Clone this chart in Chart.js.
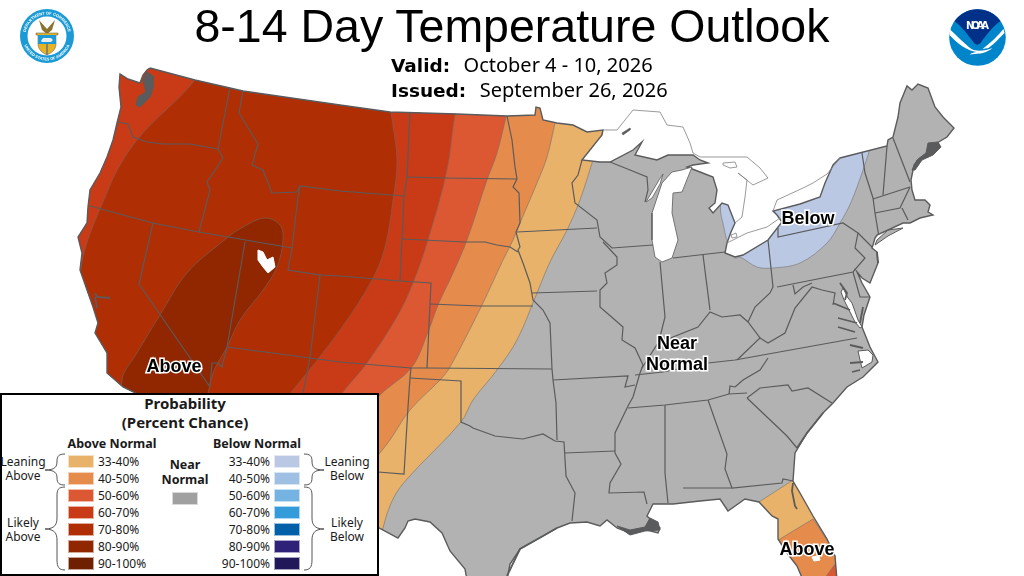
<!DOCTYPE html>
<html>
<head>
<meta charset="utf-8">
<title>8-14 Day Temperature Outlook</title>
<script src="https://cdn.jsdelivr.net/npm/chart.js@4"></script>
<style>
    html, body { margin: 0; padding: 0; background: #fff; }
    #page { position: relative; width: 1024px; height: 576px; overflow: hidden; font-family: "Liberation Sans", Arial, sans-serif; color: #000; }
    #map { position: absolute; left: 0; top: 0; }
    .abs { position: absolute; white-space: nowrap; line-height: 1; }
    .center { transform: translateX(-50%); text-align: center; }
    .title { left: 512px; top: 3px; font-size: 46.5px; }
    .sub { font-family: "Noto Sans", sans-serif; font-size: 20px; }
    .sub b { font-family: "DejaVu Sans", sans-serif; font-size: 18.5px; margin-right: 3px; }
    .region { font-size: 18px; font-weight: bold; paint-order: stroke fill; -webkit-text-stroke: 3px #fff; }
    #legend { position: absolute; left: 0; top: 393px; width: 375px; height: 179px; background: #fff; border: 2px solid #000; font-family: "Noto Sans", sans-serif; }
    #legend .abs { margin-top: -395px; margin-left: -2px; color: #1a1a1a; }
    .lg-head { font-weight: bold; font-size: 15px; }
    .lg-col { font-weight: bold; font-size: 12.5px; }
    .lg-txt { font-size: 12px; }
    .swatch { position: absolute; width: 26px; height: 13px; box-sizing: border-box; border: 1px solid rgba(255,255,255,.6); margin-top: -395px; margin-left: -2px; }
    #braces { position: absolute; left: -2px; top: -395px; }
    svg.logo { position: absolute; }
</style>
</head>
<body>
<div id="page">
    <canvas id="map" width="1024" height="576"></canvas>

    <div class="abs center title">8-14 Day Temperature Outlook</div>
    <div class="abs sub" style="left:391px;top:55px"><b>Valid:</b>&nbsp; October 4 - 10, 2026</div>
    <div class="abs sub" style="left:391px;top:80px"><b>Issued:</b>&nbsp; September 26, 2026</div>

    <div class="abs center region" style="left:174px;top:357px">Above</div>
    <div class="abs center region" style="left:677px;top:334px">Near</div>
    <div class="abs center region" style="left:677px;top:355px">Normal</div>
    <div class="abs center region" style="left:808px;top:209px">Below</div>
    <div class="abs center region" style="left:807px;top:540px">Above</div>

    <!-- Department of Commerce seal -->
    <svg class="logo" style="left:19px;top:8px" width="56" height="56" viewBox="0 0 56 56">
        <defs>
            <path id="ringTop" d="M6.5 28a21.5 21.5 0 0 1 43 0"/>
            <path id="ringBottom" d="M3.5 28a24.5 24.5 0 0 0 49 0"/>
        </defs>
        <circle cx="28" cy="28" r="27" fill="#1b9ad6"/>
        <circle cx="28" cy="28" r="19.5" fill="#fff"/>
        <text font-size="4" font-weight="bold" fill="#fff" text-anchor="middle" font-family="Liberation Sans"><textPath href="#ringTop" startOffset="50%">DEPARTMENT OF COMMERCE</textPath></text>
        <text font-size="4" font-weight="bold" fill="#fff" text-anchor="middle" font-family="Liberation Sans"><textPath href="#ringBottom" startOffset="50%">UNITED STATES OF AMERICA</textPath></text>
        <path d="M20 12l8 9 8-9-3 10-5 4-5-4z" fill="#8a7430"/>
        <path d="M17 25h22v2h-2v9c0 6-5 9-9 11-4-2-9-5-9-11v-9h-2z" fill="#e6b422" stroke="#555" stroke-width=".5"/>
        <rect x="19" y="27" width="18" height="9" fill="#1b9ad6"/>
        <path d="M22 33l2-3h8l2 2-2 2h-9z" fill="#eee"/>
        <rect x="27.2" y="36" width="1.6" height="11" fill="#777"/>
    </svg>

    <!-- NOAA logo -->
    <svg class="logo" style="left:949px;top:9px" width="57" height="57" viewBox="0 0 57 57">
        <circle cx="28.5" cy="28.5" r="28.3" fill="#0085ca"/>
        <path d="M5.5 12.2A28.3 28.3 0 0 1 51.5 12c-7 4.5-14 14-20.5 22.5-1.5 1.5-4 1.500-5.500 0C19 26 12.500 17 5.500 12.200z" fill="#003087"/>
        <path d="M0.500 20c7 6 15 15 22 20 5 3 15 1.500 21-1-5 4-10 5.500-13 5.500l-10 1c3-2 5-2 7-2.500C18 42 8 34 0.500 26z" fill="#fff"/>
        <path d="M54.500 20c-6 7-13 14-21 20l6-1c6-4.500 11-10 16-15z" fill="#fff"/>
        <text x="28.500" y="19.500" font-size="10" font-weight="bold" fill="#fff" text-anchor="middle" font-family="DejaVu Sans" textLength="23">NOAA</text>
    </svg>

    <div id="legend">
        <svg id="braces" width="378" height="576" fill="none" stroke="#555" stroke-width="1">
            <path d="M65 454c-6 0-8 2-8 7 0 6-2 9-12 9 10 0 12 3 12 8 0 5 2 7 8 7"/>
            <path d="M65 487c-7 0-8 3-8 9v22c0 6-2 11-12 11 10 0 12 5 12 11v20c0 7 2 10 8 10"/>
            <path d="M304 454c6 0 8 2 8 7 0 6 2 9 12 9-10 0-12 3-12 8 0 5-2 7-8 7"/>
            <path d="M304 487c7 0 8 3 8 9v22c0 6 2 11 12 11-10 0-12 5-12 11v20c0 7-2 10-8 10"/>
        </svg>
    </div>
</div>

<script>
// Legend contents
const rangeLabels = ['33-40%', '40-50%', '50-60%', '60-70%', '70-80%', '80-90%', '90-100%'];
const aboveColors = ['#E8B26A', '#E58B4C', '#DC5832', '#C93A17', '#B02E04', '#902700', '#6E2000'];
const belowColors = ['#BBC8E4', '#9FC0E2', '#74B3E2', '#359CDC', '#0160A8', '#2E2278', '#201858'];
const nearColor = '#A0A0A0';
const landColor = '#B2B2B2';
const lineColor = '#5A5B5D';

// Map shapes as [x, y] in map units
const usOutline = [[150,68],[195,80],[230,88],[243,91],[340,105],[390,112],[457,114],[507,116],[535,115],[536,107],[540,108],[543,120],[557,123],[573,125],[587,132],[603,130],[602,135],[582,160],[600,162],[610,162],[633,150],[642,142],[635,155],[657,160],[668,155],[693,155],[700,160],[708,163],[693,165],[687,167],[700,172],[713,177],[717,190],[715,203],[709,208],[713,213],[722,203],[728,205],[735,223],[731,232],[727,243],[725,253],[735,257],[743,255],[768,240],[782,222],[777,215],[773,211],[800,204],[820,197],[825,183],[833,165],[840,158],[887,146],[888,140],[893,137],[898,117],[900,103],[907,86],[912,90],[918,84],[928,88],[935,107],[943,117],[954,128],[947,137],[937,143],[930,152],[920,158],[914,165],[911,180],[912,190],[915,200],[925,200],[930,205],[928,212],[933,215],[920,218],[910,223],[903,223],[877,235],[875,238],[873,245],[872,248],[877,252],[878,263],[870,283],[862,278],[857,272],[862,283],[870,297],[864,315],[862,327],[870,347],[878,362],[863,377],[847,387],[833,403],[823,413],[807,433],[795,453],[793,481],[800,493],[813,516],[827,539],[835,556],[837,580],[803,580],[797,566],[787,553],[778,539],[778,519],[772,516],[759,502],[745,499],[728,511],[720,499],[700,501],[673,504],[653,504],[647,516],[660,528],[658,533],[643,529],[630,533],[617,528],[607,520],[600,526],[587,522],[570,523],[557,528],[543,536],[520,549],[510,564],[507,580],[467,580],[465,569],[450,551],[442,533],[430,522],[415,519],[408,521],[405,528],[398,538],[379,528],[300,490],[220,440],[180,420],[150,400],[123,387],[107,373],[107,353],[95,333],[98,323],[93,307],[87,290],[80,270],[82,253],[78,237],[87,223],[88,207],[90,190],[100,173],[107,157],[113,140],[117,123],[121,107],[119,87],[120,74],[128,79],[140,83],[143,75],[147,70]];
const longIsland = [[875,245],[888,236],[903,228],[888,230],[877,240]];

// Probability regions, biggest first
const above33 = [[610,100],[603,130],[593,160],[580,200],[567,230],[550,262],[537,293],[517,340],[497,370],[473,400],[461,422],[407,479],[393,499],[383,528],[370,590],[0,590],[0,0],[610,0]];
const above40 = [[560,100],[555,123],[547,157],[537,183],[520,223],[513,240],[503,260],[482,305],[450,367],[440,380],[410,410],[390,440],[379,454],[340,500],[0,590],[0,0],[560,0]];
const above50 = [[510,100],[506,117],[497,153],[487,180],[467,240],[453,273],[438,305],[428,332],[412,367],[380,395],[340,440],[0,590],[0,0],[510,0]];
const above60 = [[460,100],[455,115],[447,170],[428,240],[413,283],[398,315],[367,363],[347,387],[320,420],[0,590],[0,0],[460,0]];
const above70 = [[390,100],[391,112],[397,160],[393,200],[385,247],[372,280],[340,330],[293,390],[250,440],[100,420],[80,280],[108,190],[137,140],[195,80],[200,60]];
const above80 = [[205,410],[130,410],[122,380],[137,353],[160,315],[187,273],[227,238],[243,227],[265,218],[280,225],[283,240],[277,267],[263,290],[240,320],[227,347],[213,373]];
const below33 = [[875,130],[869,152],[852,200],[840,223],[827,243],[800,263],[773,268],[757,267],[740,257],[735,258],[729,245],[725,233],[722,200],[760,150]];
const floridaAbove33 = [[745,511],[793,480],[860,560],[860,590],[760,590]];
const floridaAbove40 = [[770,545],[813,519],[860,590],[770,590]];
const floridaAbove50 = [[825,578],[838,560],[860,590]];

// Water drawn over the land
const lakeMichigan = [[692,167],[682,170],[672,172],[662,183],[652,213],[652,240],[655,257],[662,262],[672,258],[678,240],[672,213],[673,193],[682,192],[690,172]];
const greenBay = [[646,202],[652,192],[659,180],[663,174],[660,184],[652,198]];
const lakeStClair = [[731,235],[736,233],[737,237],[732,238]];
const saltLake = [[258,250],[263,252],[267,260],[273,257],[275,267],[268,273],[263,267],[258,260]];
const chesapeake = [[843,288],[848,298],[852,303],[858,320],[862,327],[860,328],[855,322],[849,310],[844,300],[841,292]];
const pamlico = [[858,351],[868,350],[873,355],[872,362],[862,368],[860,360]];
const okeechobee = [[812,557],[819,556],[820,560],[814,561]];

// Dark coastal inlets
const pugetSound = [[147,72],[153,76],[153,88],[150,97],[140,107],[136,105],[138,97],[146,92],[143,80]];
const maineInlets = [[928,143],[938,142],[941,147],[933,155],[922,160],[915,170],[912,170],[917,160],[926,153]];
const deltaInlets = [[617,526],[630,530],[645,527],[650,518],[658,522],[660,530],[645,531],[630,535]];
const isleRoyale = [[622,133],[630,128],[630,130],[623,135]];

// Thin Canadian shorelines
const shoreSuperior = [[603,130],[617,130],[625,120],[633,110],[660,112],[667,125],[683,127],[690,143],[693,153],[700,157],[747,157],[760,168],[768,178],[753,185],[738,173],[747,180],[745,197],[742,217],[735,223]];
const shoreErie = [[727,243],[747,233],[767,227],[780,218]];
const shoreOntario = [[773,211],[777,200],[803,188],[813,183],[827,174],[840,158]];
const manitoulin = [[723,163],[735,162],[737,167],[730,168],[723,165],[723,163]];

// Short dark lines for tidal rivers and rough coast
const tidalLines = [
    [[833,303],[850,310]], [[838,318],[857,323]], [[838,327],[855,332]],
    [[840,283],[847,293],[845,300]], [[863,307],[860,323]],
    [[850,345],[863,348]], [[850,363],[863,362]], [[852,372],[860,370]],
    [[797,448],[807,433],[823,413]], [[507,576],[520,549],[543,536],[557,528]],
    [[793,483],[792,491],[795,506],[797,509]], [[877,252],[878,263]],
    [[95,293],[97,297],[110,298]], [[95,297],[97,308]]
];

// State borders
const stateBorders = [
    [[118,122],[128,124],[133,137],[147,142],[163,144],[190,144],[218,149]],
    [[230,88],[218,149],[223,158],[207,182],[210,190],[199,232]],
    [[243,91],[239,113],[258,144],[252,165],[263,170],[272,193],[297,192],[300,186],[340,191],[404,196]],
    [[90,206],[153,223],[199,232],[292,248]],
    [[300,186],[298,197],[292,248],[288,270],[320,275],[310,358]],
    [[153,223],[139,284],[210,387]],
    [[245,242],[227,347],[222,367],[218,363],[212,363],[210,387]],
    [[227,347],[310,358],[340,362],[411,368],[427,368],[552,369]],
    [[310,358],[303,393]],
    [[410,113],[407,177],[404,196],[402,239],[400,281]],
    [[320,275],[340,276],[400,281],[431,283],[430,304],[427,368]],
    [[407,177],[443,178],[517,179]],
    [[507,116],[512,140],[515,167],[517,179],[513,187],[519,193],[520,223],[516,232],[520,247],[518,250],[523,263],[530,283],[533,300],[543,310],[550,323],[552,369],[553,380],[556,403],[557,440]],
    [[402,239],[465,242],[485,242],[497,245],[510,247],[518,252]],
    [[430,304],[480,306],[533,306]],
    [[517,232],[597,228]],
    [[532,293],[597,291]],
    [[582,160],[578,175],[572,183],[575,203],[597,220],[600,237],[612,248],[653,245]],
    [[603,242],[617,257],[617,265],[605,273],[607,283],[600,290],[600,307],[615,320],[623,327],[622,340],[635,348],[643,365],[640,373],[633,397],[628,406],[615,433],[615,453],[621,464],[610,483],[609,493],[644,492],[647,504]],
    [[610,162],[630,170],[647,177],[648,190],[645,202]],
    [[660,262],[665,317],[660,337],[658,343]],
    [[642,368],[658,343],[698,327],[710,312],[722,317],[740,315],[748,322],[760,338],[737,360]],
    [[553,380],[628,376],[625,387],[635,385]],
    [[635,375],[663,372],[708,363],[735,360],[857,338]],
    [[628,408],[665,405],[708,400],[729,394],[747,393]],
    [[735,387],[743,380],[760,370],[768,358]],
    [[665,405],[665,473],[668,503]],
    [[708,400],[727,454],[725,469],[732,488],[782,483],[783,479],[793,481]],
    [[683,488],[732,488]],
    [[747,398],[787,436],[797,448]],
    [[729,394],[730,386],[735,387]],
    [[747,398],[760,388],[788,385],[792,391],[808,388],[832,403]],
    [[703,255],[710,310]],
    [[673,258],[725,252]],
    [[748,322],[755,307],[770,293],[773,287],[768,240]],
    [[760,338],[768,343],[785,333],[795,308],[812,287],[822,290],[835,293],[833,305]],
    [[793,285],[795,294],[803,287],[812,283]],
    [[777,287],[853,272],[865,258],[855,248],[858,233],[843,223],[778,237],[778,228]],
    [[853,272],[860,297],[870,297]],
    [[858,233],[873,248]],
    [[875,213],[879,237]],
    [[875,213],[900,208],[910,187]],
    [[875,213],[873,198],[865,173],[862,153]],
    [[873,199],[910,187]],
    [[887,146],[883,195]],
    [[893,138],[910,182]],
    [[902,208],[908,220]],
    [[411,368],[410,378],[408,407],[404,474],[378,472]],
    [[410,378],[461,381],[461,422],[470,426],[473,428],[495,436],[513,438],[523,439],[543,434],[555,441],[564,442],[566,476],[575,493],[572,521]],
    [[565,453],[615,451]]
];

function polygon(points, fillColor, borderColor, borderWidth, clipToLand, tension) {
    // repeat the first point so that the border closes
    const closed = points.concat([points[0]]);
    return {
        data: closed.map(p => ({ x: p[0], y: p[1] })),
        showLine: true,
        pointRadius: 0,
        borderColor: borderColor,
        borderWidth: borderWidth,
        tension: tension || 0,
        fillColor: fillColor,
        clipToLand: clipToLand
    };
}

function polyline(points, color, width, clipToLand) {
    return {
        data: points.map(p => ({ x: p[0], y: p[1] })),
        showLine: true,
        pointRadius: 0,
        borderColor: color,
        borderWidth: width,
        clipToLand: clipToLand
    };
}

const bandEdge = 'rgba(110,110,110,0.55)';
const bandTension = 0.35;
const land = polygon(usOutline, landColor, 'rgba(0,0,0,0)', 0, false);

function band(points, color) {
    return polygon(points, color, bandEdge, 1, true, bandTension);
}

// Painter's order: first one goes at the back
const layers = [
    land,
    polygon(longIsland, landColor, lineColor, 1, false),
    band(above33, aboveColors[0]),
    band(above40, aboveColors[1]),
    band(above50, aboveColors[2]),
    band(above60, aboveColors[3]),
    band(above70, aboveColors[4]),
    band(above80, aboveColors[5]),
    polygon(floridaAbove33, aboveColors[0], bandEdge, 1, true),
    polygon(floridaAbove40, aboveColors[1], bandEdge, 1, true),
    polygon(floridaAbove50, aboveColors[2], bandEdge, 1, true),
    band(below33, belowColors[0]),
    polygon(usOutline, null, lineColor, 1.4, false),
    polygon(lakeMichigan, '#fff', lineColor, 0.8, false),
    polygon(greenBay, '#fff', lineColor, 0.8, false),
    polygon(lakeStClair, '#fff', lineColor, 0.6, false),
    polygon(saltLake, '#fff', '#fff', 1, false),
    polygon(chesapeake, '#fff', lineColor, 1, false),
    polygon(pamlico, '#fff', lineColor, 1, false),
    polygon(okeechobee, '#fff', '#fff', 1, false),
    polygon(pugetSound, lineColor, lineColor, 1, false),
    polygon(maineInlets, lineColor, lineColor, 1, false),
    polygon(deltaInlets, lineColor, lineColor, 1, false),
    polygon(isleRoyale, lineColor, lineColor, 0.6, false),
    polyline(shoreSuperior, '#808080', 0.8, false),
    polyline(shoreOntario, '#808080', 0.8, false),
    polyline(shoreErie, '#808080', 0.8, false),
    polyline(manitoulin, '#808080', 0.8, false)
].concat(
    tidalLines.map(b => polyline(b, lineColor, 1.8, false)),
    stateBorders.map(b => polyline(b, lineColor, 1.2, true))
);

// lower order is drawn on top in Chart.js
layers.forEach((ds, i) => { ds.order = layers.length - i; });

function tracePath(ctx, elements) {
    ctx.beginPath();
    elements.forEach((el, i) => {
        if (i === 0) {
            ctx.moveTo(el.x, el.y);
        } else if (el.cp1x !== undefined) {
            const prev = elements[i - 1];
            ctx.bezierCurveTo(prev.cp2x, prev.cp2y, el.cp1x, el.cp1y, el.x, el.y);
        } else {
            ctx.lineTo(el.x, el.y);
        }
    });
    ctx.closePath();
}

// Chart.js has no closed shape fill, so fill the dataset's own points here
const polygonFill = {
    id: 'polygonFill',
    beforeDatasetDraw(chart, args) {
        const ctx = chart.ctx;
        const ds = chart.data.datasets[args.index];
        ctx.save();
        if (ds.clipToLand) {
            tracePath(ctx, chart.getDatasetMeta(chart.data.datasets.indexOf(land)).data);
            ctx.clip();
        }
        if (ds.fillColor) {
            args.meta.dataset.updateControlPoints(chart.chartArea);
            tracePath(ctx, args.meta.data);
            ctx.fillStyle = ds.fillColor;
            ctx.fill();
        }
    },
    afterDatasetDraw(chart) {
        chart.ctx.restore();
    }
};

new Chart(document.getElementById('map').getContext('2d'), {
    type: 'scatter',
    data: { datasets: layers },
    plugins: [polygonFill],
    options: {
        responsive: false,
        animation: false,
        events: [],
        layout: { padding: 0 },
        scales: {
            x: { type: 'linear', display: false, min: 0, max: 1024 },
            y: { type: 'linear', display: false, min: 0, max: 576, reverse: true }
        },
        plugins: {
            legend: { display: false },
            tooltip: { enabled: false }
        }
    }
});

// Build the legend box
const legendBox = document.getElementById('legend');

function addText(cls, text, left, top, center, right) {
    const el = document.createElement('div');
    el.className = 'abs ' + cls + (center ? ' center' : '');
    el.textContent = text;
    el.style.left = left + 'px';
    el.style.top = top + 'px';
    if (right) el.style.transform = 'translateX(-100%)';
    legendBox.appendChild(el);
}

function addSwatch(color, left, top) {
    const el = document.createElement('div');
    el.className = 'swatch';
    el.style.background = color;
    el.style.left = left + 'px';
    el.style.top = top + 'px';
    legendBox.appendChild(el);
}

addText('lg-head', 'Probability', 185, 396, true);
addText('lg-head', '(Percent Chance)', 185, 415, true);
addText('lg-col', 'Above Normal', 112, 438, true);
addText('lg-col', 'Below Normal', 257, 438, true);
addText('lg-col', 'Near', 185, 459, true);
addText('lg-col', 'Normal', 185, 474, true);
addSwatch(nearColor, 172, 492);

rangeLabels.forEach((label, i) => {
    const top = 455 + i * 17;
    addSwatch(aboveColors[i], 68, top);
    addSwatch(belowColors[i], 274, top);
    addText('lg-txt', label, 98, top + 1, false);
    addText('lg-txt', label, 270, top + 1, false, true);
});

addText('lg-txt', 'Leaning', 23, 456, true);
addText('lg-txt', 'Above', 23, 470, true);
addText('lg-txt', 'Likely', 23, 517, true);
addText('lg-txt', 'Above', 23, 531, true);
addText('lg-txt', 'Leaning', 347, 456, true);
addText('lg-txt', 'Below', 347, 470, true);
addText('lg-txt', 'Likely', 347, 517, true);
addText('lg-txt', 'Below', 347, 531, true);
</script>
</body>
</html>
